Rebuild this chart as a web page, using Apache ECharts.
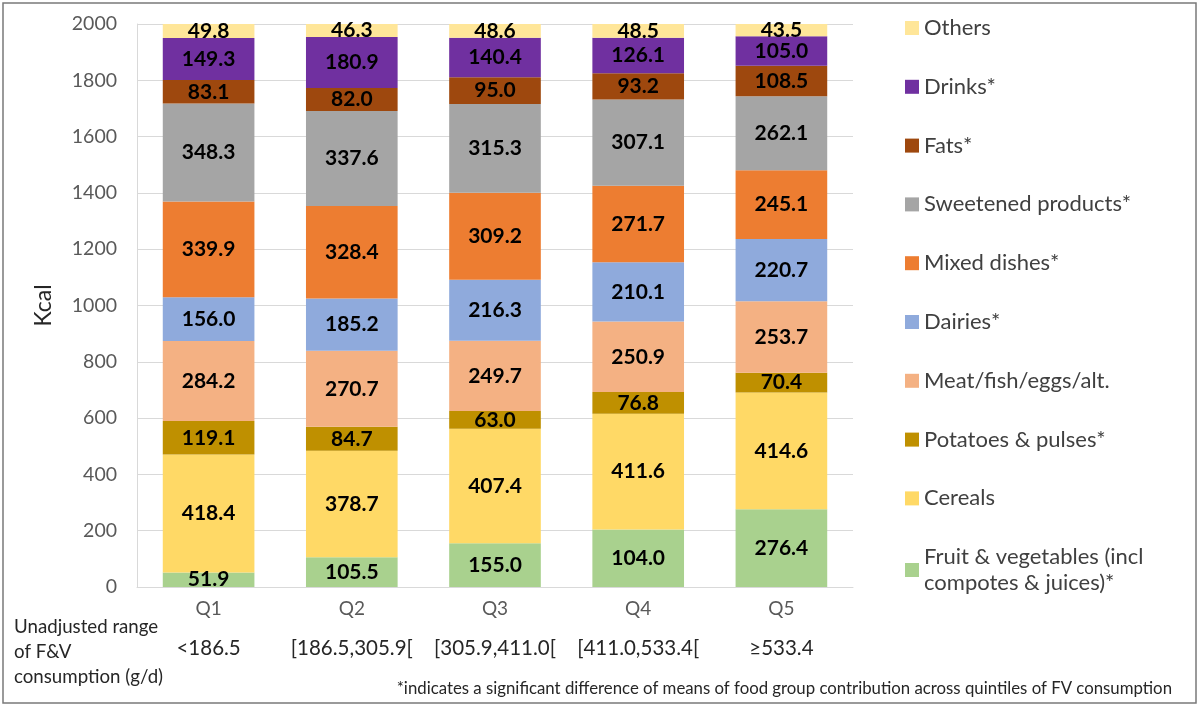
<!DOCTYPE html>
<html>
<head>
<meta charset="utf-8">
<script src="https://cdn.jsdelivr.net/npm/echarts@6/dist/echarts.min.js"></script>
<style>html,body{margin:0;padding:0;background:#fff}#c{width:1200px;height:710px}</style>
</head>
<body>
<div id="c"></div>
<script>
const categories = ['Q1', 'Q2', 'Q3', 'Q4', 'Q5'];
const ranges = ['<186.5', '[186.5,305.9[', '[305.9,411.0[', '[411.0,533.4[', '\u2265533.4'];
const yTicks = { min: 0, max: 2000, interval: 200 };

// bottom-up series values
const fruitVeg = [51.9, 105.5, 155.0, 204.0, 276.4];
const fruitVegPrinted = ['51.9', '105.5', '155.0', '104.0', '276.4'];
const cereals = [418.4, 378.7, 407.4, 411.6, 414.6];
const potatoes = [119.1, 84.7, 63.0, 76.8, 70.4];
const meat = [284.2, 270.7, 249.7, 250.9, 253.7];
const dairies = [156.0, 185.2, 216.3, 210.1, 220.7];
const mixed = [339.9, 328.4, 309.2, 271.7, 245.1];
const sweetened = [348.3, 337.6, 315.3, 307.1, 262.1];
const fats = [83.1, 82.0, 95.0, 93.2, 108.5];
const drinks = [149.3, 180.9, 140.4, 126.1, 105.0];
const others = [49.8, 46.3, 48.6, 48.5, 43.5];

const FONT = 'Lato';
const fruitName = 'Fruit & vegetables (incl\ncompotes & juices)*';

const seriesDefs = [
  { name: fruitName, data: fruitVeg, color: '#A9D18E', printed: fruitVegPrinted },
  { name: 'Cereals', data: cereals, color: '#FFD966' },
  { name: 'Potatoes & pulses*', data: potatoes, color: '#BF9000' },
  { name: 'Meat/fish/eggs/alt.', data: meat, color: '#F4B183' },
  { name: 'Dairies*', data: dairies, color: '#8FAADC' },
  { name: 'Mixed dishes*', data: mixed, color: '#ED7D31' },
  { name: 'Sweetened products*', data: sweetened, color: '#A5A5A5' },
  { name: 'Fats*', data: fats, color: '#9E480E' },
  { name: 'Drinks*', data: drinks, color: '#7030A0' },
  { name: 'Others', data: others, color: '#FFE699' }
];

const series = seriesDefs.map(d => ({
  name: d.name,
  type: 'bar',
  stack: 'total',
  barWidth: '64%',
  data: d.data,
  itemStyle: { color: d.color },
  label: {
    show: true,
    position: 'inside',
    fontFamily: FONT,
    fontWeight: 'bold',
    fontSize: 21,
    color: '#000',
    formatter: p => d.printed ? d.printed[p.dataIndex] : p.value.toFixed(1)
  },
  emphasis: { disabled: true }
}));

const legendNames = seriesDefs.map(d => d.name).reverse().filter(n => n !== fruitName);

const legendText = { fontFamily: FONT, fontSize: 22, lineHeight: 26, color: '#404040' };

const chart = echarts.init(document.getElementById('c'));
chart.setOption({
  animation: false,
  backgroundColor: '#fff',
  grid: { left: 137, right: 347, top: 24, bottom: 123 },
  legend: [{
    orient: 'vertical',
    left: 900,
    top: 10,
    itemWidth: 14,
    itemHeight: 14,
    itemGap: 32.8,
    icon: 'rect',
    data: legendNames,
    textStyle: legendText
  }, {
    orient: 'vertical',
    left: 900,
    top: 526,
    itemWidth: 14,
    itemHeight: 14,
    icon: 'rect',
    data: [fruitName],
    textStyle: Object.assign({}, legendText, { padding: [26, 0, 0, 0] })
  }],
  xAxis: {
    type: 'category',
    data: categories,
    axisTick: { show: false },
    axisLine: { lineStyle: { color: '#D9D9D9' } },
    axisLabel: {
      margin: 10,
      formatter: (v, i) => '{q|' + v + '}\n{r|' + ranges[i] + '}',
      rich: {
        q: { fontFamily: FONT, fontSize: 19, lineHeight: 24, color: '#595959' },
        r: { fontFamily: FONT, fontSize: 20.5, lineHeight: 54, color: '#262626' }
      }
    }
  },
  yAxis: {
    type: 'value',
    min: yTicks.min,
    max: yTicks.max,
    interval: yTicks.interval,
    name: 'Kcal',
    nameLocation: 'middle',
    nameRotate: 90,
    nameGap: 82,
    nameTextStyle: { fontFamily: FONT, fontSize: 23, color: '#262626' },
    axisLine: { show: true, lineStyle: { color: '#D9D9D9' } },
    axisTick: { show: false },
    splitLine: { lineStyle: { color: '#D9D9D9' } },
    axisLabel: { margin: 20, fontFamily: FONT, fontSize: 19.5, color: '#595959', formatter: v => String(v) }
  },
  graphic: [
    { type: 'rect', shape: { x: 3, y: 3, width: 1193, height: 700 }, style: { fill: 'none', stroke: '#7a7a7a', lineWidth: 1.5 }, silent: true },
    { type: 'text', left: 14, top: 614, style: { text: 'Unadjusted range\nof F&V\nconsumption (g/d)', fontFamily: FONT, fontSize: 18.7, lineHeight: 25, fill: '#262626' } },
    { type: 'text', right: 28, top: 680, style: { text: '*indicates a significant difference of means of food group contribution across quintiles of FV consumption', fontFamily: FONT, fontSize: 16.8, fill: '#262626' } }
  ],
  series
});
</script>
</body>
</html>
